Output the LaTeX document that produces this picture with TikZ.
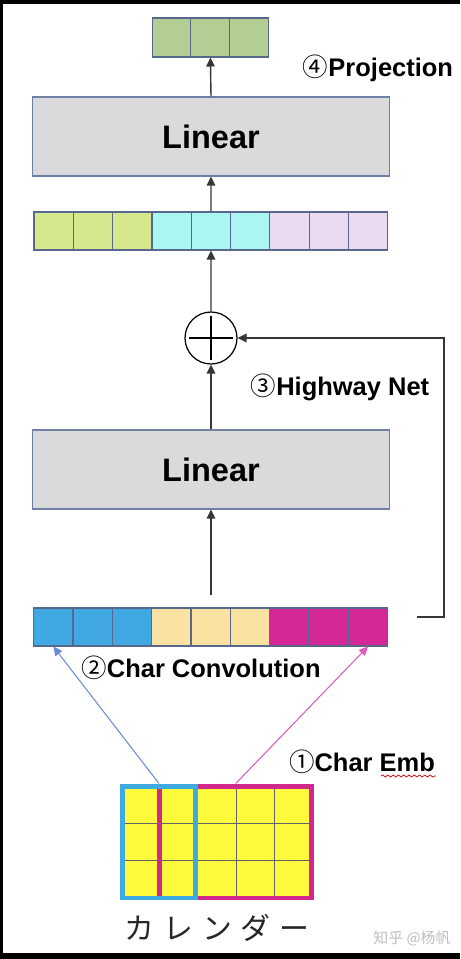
\documentclass[tikz,border=0pt]{standalone}
\usepackage{fontspec}
\setmainfont{Liberation Sans}
\newfontfamily\jpfont{Noto Sans CJK JP}
\newfontfamily\scfont{Noto Sans CJK SC}
\newcommand{\circnum}[1]{{\jpfont\mdseries #1}}
\usetikzlibrary{arrows.meta,decorations.pathmorphing}
\definecolor{cellline}{RGB}{88,104,140}
\definecolor{linline}{RGB}{112,128,165}
\definecolor{lingray}{RGB}{218,218,220}
\definecolor{arrgray}{RGB}{55,55,55}
\definecolor{outgreen}{RGB}{178,206,146}
\definecolor{hwgreen}{RGB}{214,232,142}
\definecolor{hwcyan}{RGB}{170,246,242}
\definecolor{hwlilac}{RGB}{236,218,240}
\definecolor{cvblue}{RGB}{64,168,226}
\definecolor{cvsand}{RGB}{250,226,162}
\definecolor{cvmag}{RGB}{212,40,150}
\definecolor{embyellow}{RGB}{255,250,60}
\definecolor{embline}{RGB}{95,100,105}
\definecolor{winblue}{RGB}{62,170,226}
\definecolor{winmag}{RGB}{210,40,140}
\definecolor{lnblue}{RGB}{105,140,215}
\definecolor{lnpink}{RGB}{225,90,190}
\begin{document}
\begin{tikzpicture}[x=0.02cm, y=-0.02cm,
  cell/.style={draw=cellline,line width=0.6pt,minimum width=0.786cm,minimum height=0.76cm,inner sep=0pt},
  embcell/.style={draw=embline,fill=embyellow,line width=0.6pt,minimum width=0.768cm,minimum height=0.746cm,inner sep=0pt},
  lin/.style={draw=linline,fill=lingray,line width=0.7pt,minimum width=7.14cm,minimum height=1.58cm,font=\bfseries\fontsize{18.5}{20}\selectfont},
  lbl/.style={font=\bfseries\fontsize{14.5}{16}\selectfont},
  arr/.style={-{Triangle[length=0.18cm,width=0.17cm]},line width=0.8pt,arrgray},
  win/.style={draw,line width=0.1cm,minimum height=2.24cm,inner sep=0pt}]
\useasboundingbox (0,0) rectangle (460,959);
\fill[white] (0,0) rectangle (460,959);
\fill[black] (0,0) rectangle (460,4); \fill[black] (0,0) rectangle (3,959); \fill[black] (0,953) rectangle (460,959);
% projection
\foreach \i in {1,2,3} \node[cell,fill=outgreen,minimum height=0.78cm] (p\i) at ({133+38.7*\i},37.5) {};
\node[lin] (lin1) at (211,136.5) {Linear};
\node[lbl] (lproj) at (378,68) {\circnum{④}Projection};
\draw[arr] (lin1.north) -- (p2.south);
% highway
\foreach \i/\col in {1/hwgreen,2/hwgreen,3/hwgreen,4/hwcyan,5/hwcyan,6/hwcyan,7/hwlilac,8/hwlilac,9/hwlilac} \node[cell,fill=\col] (h\i) at ({14.3+39.33*\i},231) {};
\draw[arr] (h5.north) -- (lin1.south);
\node[draw,circle,minimum size=1.04cm,line width=0.7pt,path picture={\draw[line width=0.7pt] ([xshift=-0.44cm]path picture bounding box.center) -- ([xshift=0.44cm]path picture bounding box.center) ([yshift=-0.44cm]path picture bounding box.center) -- ([yshift=0.44cm]path picture bounding box.center);}] (add) at (211,338) {};
\draw[arr] (add.north) -- (h5.south);
\node[lin] (lin2) at (211,469.5) {Linear};
\draw[arr] (lin2.north) -- (add.south);
\node[lbl] (lhw) at (340,387) {\circnum{③}Highway Net};
\coordinate (fromconv) at (211,595);
\draw[arr] (fromconv) -- (lin2.south);
\coordinate (skip0) at (417,617);
\draw[arr] (skip0) -- ++(27,0) |- (add.east);
% conv
\foreach \i/\col in {1/cvblue,2/cvblue,3/cvblue,4/cvsand,5/cvsand,6/cvsand,7/cvmag,8/cvmag,9/cvmag} \node[cell,fill=\col] (v\i) at ({14+39.33*\i},627) {};
\node[lbl] (lconv) at (201,668) {\circnum{②}Char Convolution};
% char emb
\foreach \c in {0,...,4} \foreach \r in {0,...,2} \node[embcell] (e\c\r) at ({140.2+38.4*\c},{804.7+37.3*\r}) {};
\node[win,draw=winmag,minimum width=3.05cm] (winM) at (235.7,842) {};
\node[win,draw=winblue,minimum width=1.48cm] (winB) at (159,842) {};
\draw[arr,line width=0.6pt,lnblue] (winB.north) -- (v1.south);
\draw[arr,line width=0.6pt,lnpink] (winM.north) -- (v9.south);
\node[lbl] (lemb) at (362,762) {\circnum{①}Char Emb};
\draw[red!80!black,line width=0.4pt,decorate,decoration={snake,amplitude=0.6pt,segment length=3pt}] (381,776) -- (436,776);
\node[font=\jpfont\fontsize{17}{20}\selectfont,text=black!85] (kana) at (217,928) {カ\hspace{5pt}レ\hspace{5pt}ン\hspace{5pt}ダ\hspace{5pt}ー};
\node[font=\scfont\fontsize{8.5}{10}\selectfont,text=black!25] (wm) at (412,939) {知乎 @杨帆};
\end{tikzpicture}
\end{document}
